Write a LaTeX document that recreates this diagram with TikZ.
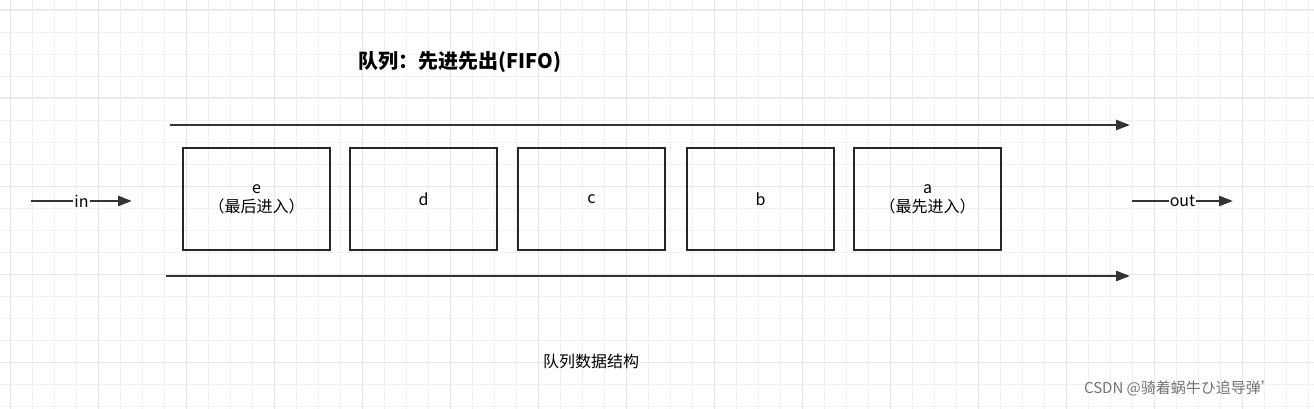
\documentclass[tikz,border=0pt]{standalone}
\usepackage{fontspec}
\setmainfont{Noto Sans CJK SC}
\usetikzlibrary{arrows.meta}
\begin{document}
\begin{tikzpicture}[x=1pt,y=-1pt,
  qbox/.style={draw=black!85,line width=2.2pt,minimum width=147pt,minimum height=102pt,inner sep=0pt,align=center,font=\fontsize{16}{19}\selectfont},
  arr/.style={draw=black!80,line width=2.5pt,-{Triangle[length=14pt,width=10pt]}},
  lbl/.style={font=\fontsize{16}{19}\selectfont,fill=white,inner sep=1pt}]
\fill[white] (0,0) rectangle (1314,409);
\useasboundingbox (0,0) rectangle (1314,409);
\begin{scope}
\clip (0,0) rectangle (1314,409);
\draw[black!6,line width=0.8pt,step=22pt,shift={(10,10)}] (-22,-22) grid (1320,420);
\draw[black!10,line width=1pt,step=88pt,shift={(10,10)}] (-88,-88) grid (1400,440);
\end{scope}
\node[font=\fontsize{20}{24}\selectfont\bfseries] (title) at (460,62) {队列：先进先出(FIFO)};
\node[qbox] (e) at (256.5,199) {e\\（最后进入）};
\node[qbox] (d) at (423.5,199) {d};
\node[qbox] (c) at (591.5,199) {c};
\node[qbox] (b) at (760.5,199) {b};
\node[qbox] (a) at (927.5,199) {a\\（最先进入）};
\coordinate (t1) at (170,125); \coordinate (t2) at (1130,125);
\coordinate (b1) at (166,276); \coordinate (b2) at (1130,276);
\draw[arr] (t1) -- (t2);
\draw[arr] (b1) -- (b2);
\coordinate (i1) at (31,201); \coordinate (i2) at (132,201);
\draw[arr] (i1) -- node[lbl] (inl) {in} (i2);
\coordinate (o1) at (1132,201); \coordinate (o2) at (1233,201);
\draw[arr] (o1) -- node[lbl] (outl) {out} (o2);
\node[font=\fontsize{16}{19}\selectfont] (cap) at (591,361) {队列数据结构};
\node[font=\fontsize{15}{18}\selectfont,text=black!55] (wm) at (1180,388) {CSDN @骑着蜗牛ひ追导弹'};
\end{tikzpicture}
\end{document}
